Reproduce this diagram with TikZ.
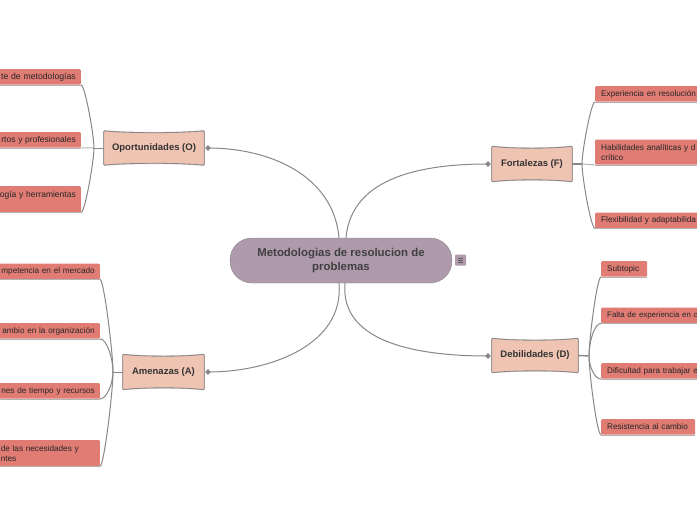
\documentclass[tikz,border=0pt]{standalone}
\usepackage{fontspec}
\setmainfont{Liberation Sans}
\usetikzlibrary{calc,backgrounds,shapes.geometric}
\definecolor{central}{HTML}{AE9AAB}
\definecolor{topicfill}{HTML}{F0C4B2}
\definecolor{subfill}{HTML}{E07C74}
\definecolor{linegray}{HTML}{8A8686}
\tikzset{
  centralbox/.style={draw=linegray,fill=central,rounded corners=22pt,minimum width=222,minimum height=45,
    align=center,text=black!75,font=\fontsize{11.4}{14.5}\selectfont\bfseries},
  topicbox/.style={minimum height=27,inner sep=0,text=black!80,font=\fontsize{9.5}{11}\selectfont\bfseries},
  subbox/.style={fill=subfill,rounded corners=1pt,minimum height=15.5,inner xsep=5,inner ysep=0,text=black!85,
    font=\fontsize{8.2}{10}\selectfont},
  leftbox/.style={subbox,anchor=north east,align=right,text width=130},
  rightbox/.style={subbox,anchor=north west,align=left,inner xsep=6},
  dot/.style={diamond,fill=linegray,inner sep=0,minimum size=6},
  branch/.style={draw=linegray,line width=1},
  under/.style={draw=black!30,line width=1},
}
\begin{document}
\begin{tikzpicture}[x=1pt,y=-1pt]
\useasboundingbox (0,0) rectangle (697,520);
\clip (0,0) rectangle (697,520);

\node [centralbox] (root) at (341,260.5) {Metodologias de resolucion de\\problemas};
\node [fill=central,rounded corners=1pt,minimum size=11,inner sep=0] (note) at (460.5,260) {};
\foreach \dy in {-2,0,2}
  \draw [black!65,line width=.6] ([xshift=-2.5,yshift=\dy]note.center) -- ([xshift=2.5,yshift=\dy]note.center);

\node [topicbox,minimum width=100] (oport) at (154,148) {Oportunidades (O)};
\node [topicbox,minimum width=81,minimum height=28] (amen) at (163.5,372) {Amenazas (A)};
\node [topicbox,minimum width=80,minimum height=28] (fort) at (532,164) {Fortalezas (F)};
\node [topicbox,minimum width=86,minimum height=27] (debil) at (535,355.5) {Debilidades (D)};

\begin{scope}[on background layer]
\foreach \n in {oport,amen,fort,debil} {
  \draw [black!25,line width=1.4,fill=black!25,rounded corners=1pt,yshift=-1]
    ([yshift=-3.5]\n.south west) -- ([yshift=3.5]\n.north west)
    .. controls ($(\n.north west)!.25!(\n.north east)+(0,-1)$) and ($(\n.north west)!.75!(\n.north east)+(0,-1)$) .. ([yshift=3.5]\n.north east)
    -- ([yshift=-3.5]\n.south east)
    .. controls ($(\n.south west)!.75!(\n.south east)+(0,1)$) and ($(\n.south west)!.25!(\n.south east)+(0,1)$) .. cycle;
  \draw [linegray,line width=.8,fill=topicfill,rounded corners=1pt]
    ([yshift=-3.5]\n.south west) -- ([yshift=3.5]\n.north west)
    .. controls ($(\n.north west)!.25!(\n.north east)+(0,-1)$) and ($(\n.north west)!.75!(\n.north east)+(0,-1)$) .. ([yshift=3.5]\n.north east)
    -- ([yshift=-3.5]\n.south east)
    .. controls ($(\n.south west)!.75!(\n.south east)+(0,1)$) and ($(\n.south west)!.25!(\n.south east)+(0,1)$) .. cycle;
}
\end{scope}

\node [dot] (oportdot) at (208,148) {};
\node [dot] (amendot) at (208,372) {};
\node [dot] (fortdot) at (488,164) {};
\node [dot] (debildot) at (488,356) {};

\draw [branch] ([xshift=-2]root.north) to [out=95,in=0] (oportdot.center);
\draw [branch] ([xshift=5]root.north) to [out=85,in=180] (fortdot.center);
\draw [branch] ([xshift=-2]root.south) to [out=-85,in=0] (amendot.center);
\draw [branch] ([xshift=4]root.south) to [out=-95,in=180] (debildot.center);

% left side, text runs off the page
\node [leftbox] (o1) at (81,69) {\fontsize{8.7}{10}\selectfont te de metodologías};
\node [leftbox] (o2) at (81,132) {\fontsize{8.5}{10}\selectfont rtos y profesionales};
\node [leftbox,minimum height=26] (o3) at (81,186) {\fontsize{8.5}{10}\selectfont ogía y herramientas\hspace{3pt}\\~};
\node [leftbox] (a1) at (100,263.5) {mpetencia en el mercado};
\node [leftbox] (a2) at (100,323) {ambio en la organización};
\node [leftbox] (a3) at (100,383) {nes de tiempo y recursos};
\node [leftbox,align=left,text width=100,minimum height=26] (a4) at (100,440) {\hspace{6pt}de las necesidades y\\\hspace{6pt}ntes};

% right side
\node [rightbox,text width=100] (f1) at (595,86) {Experiencia en resolución};
\node [rightbox,minimum height=25,text width=100] (f2) at (595,139.5) {Habilidades analíticas y d\\crítico};
\node [rightbox,text width=100] (f3) at (595,212.5) {Flexibilidad y adaptabilida};
\node [rightbox,text width=34] (d1) at (601,261) {Subtopic};
\node [rightbox,text width=100] (d2) at (601,307.5) {\fontsize{7.9}{10}\selectfont Falta de experiencia en c};
\node [rightbox,text width=100] (d3) at (601,363) {Dificultad para trabajar e};
\node [rightbox,text width=82] (d4) at (601,419) {Resistencia al cambio};

\foreach \n in {o1,o2,o3,a1,a2,a3,a4,f1,f2,f3,d1,d2,d3,d4}
  \draw [under] ([yshift=-.5]\n.south west) -- ([yshift=-.5]\n.south east);

\coordinate (oportjoin) at (94,148);
\coordinate (amenjoin) at (113,372);
\coordinate (fortjoin) at (582,164);
\coordinate (debiljoin) at (589,356);

\draw [under] (oportjoin) -- (o2.south east);
\draw [under] (fortjoin) -- (f2.south west);
\draw [branch] (oport.west) -- (oportjoin);
\draw [branch,line width=1.4] (fort.east) -- (fortjoin);
\draw [branch] (amen.west) -- (amenjoin);
\draw [branch,line width=1.4] (debil.east) -- (debiljoin);

\foreach \j/\b/\c/\d/\f in {oportjoin/o1/east/4/.2,oportjoin/o3/east/4/.2,amenjoin/a1/east/4/.2,amenjoin/a2/east/7/.4,
    amenjoin/a3/east/7/.4,amenjoin/a4/east/4/.2,fortjoin/f1/west/-4/.2,fortjoin/f3/west/-4/.2,
    debiljoin/d1/west/-4/.2,debiljoin/d2/west/-7/.4,debiljoin/d3/west/-7/.4,debiljoin/d4/west/-4/.2}
  \draw [branch] (\j) .. controls ($(\j)!\f!(\j |- \b.south)$) and ($(\b.south \c)+(\d,0)$) .. (\b.south \c);

\end{tikzpicture}
\end{document}
